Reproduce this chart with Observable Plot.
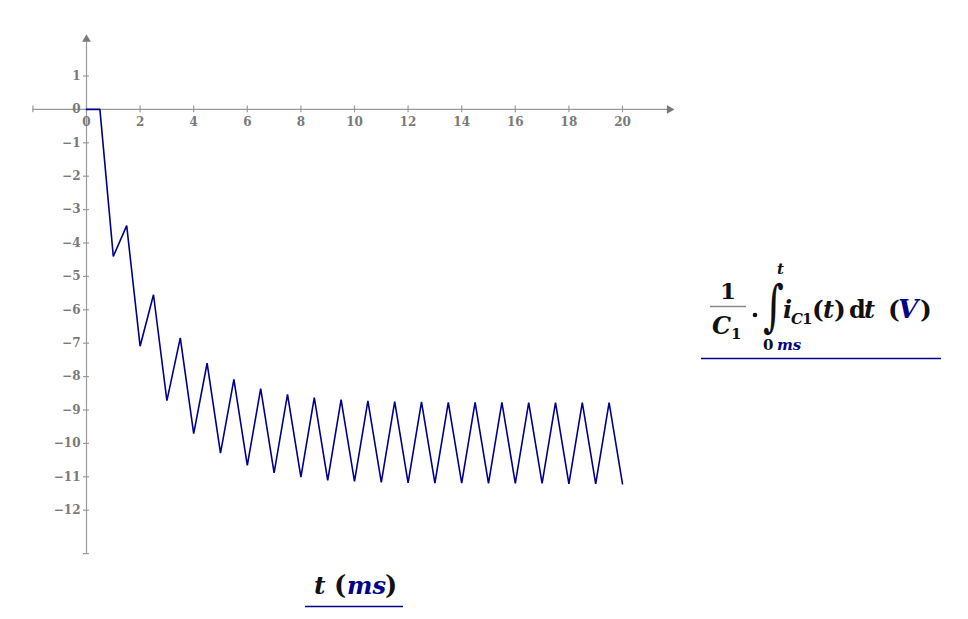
<!DOCTYPE html>
<html>
<head>
<meta charset="utf-8">
<script src="https://cdn.jsdelivr.net/npm/d3@7"></script>
<script src="https://cdn.jsdelivr.net/npm/@observablehq/plot@0.6"></script>
<style>
  html, body { margin: 0; padding: 0; background: #fff; }
  #wrap { position: relative; width: 968px; height: 619px; overflow: hidden; }
  #wrap > svg { position: absolute; left: 0; top: 0; }
  .math { font-family: "DejaVu Serif", serif; font-weight: bold; fill: #111; }
  .it { font-style: italic; }
  .unit { fill: #00008B; font-style: italic; }
</style>
</head>
<body>
<div id="wrap"></div>
<script>
// ---- data ----
const times = [0, 0.5, 1, 1.5, 2, 2.5, 3, 3.5, 4, 4.5, 5, 5.5, 6, 6.5, 7, 7.5, 8, 8.5, 9, 9.5, 10,
  10.5, 11, 11.5, 12, 12.5, 13, 13.5, 14, 14.5, 15, 15.5, 16, 16.5, 17, 17.5, 18, 18.5, 19, 19.5, 20];
const volts = [0, 0, -4.40, -3.48, -7.09, -5.55, -8.72, -6.84, -9.71, -7.60, -10.29, -8.08, -10.66, -8.36,
  -10.88, -8.53, -11.01, -8.63, -11.11, -8.69, -11.14, -8.73, -11.17, -8.75, -11.18, -8.76, -11.19,
  -8.77, -11.19, -8.77, -11.20, -8.77, -11.20, -8.78, -11.20, -8.78, -11.21, -8.78, -11.21, -8.78, -11.21];
const xTickMarks = [-2, 0, 2, 4, 6, 8, 10, 12, 14, 16, 18, 20];
const xTickValues = [0, 2, 4, 6, 8, 10, 12, 14, 16, 18, 20];
const xTickLabels = ["0", "2", "4", "6", "8", "10", "12", "14", "16", "18", "20"];
const yTickMarks = [1, 0, -1, -2, -3, -4, -5, -6, -7, -8, -9, -10, -11, -12, -13.3];
const yTickValues = [1, 0, -1, -2, -3, -4, -5, -6, -7, -8, -9, -10, -11, -12];
const yTickLabels = ["1", "0", "−1", "−2", "−3", "−4", "−5", "−6", "−7", "−8", "−9", "−10", "−11", "−12"];
const xAxisExtent = [-2, 21.75];
const yAxisExtent = [-13.3, 2.1];

const series = times.map((t, i) => ({t, v: volts[i]}));
const axisColor = "#9a9a9a";
const labelColor = "#7a7a7a";
const lineColor = "#00008B";
const tickFont = "DejaVu Serif";

const chart = Plot.plot({
  width: 968,
  height: 619,
  marginTop: 0, marginRight: 0, marginBottom: 0, marginLeft: 0,
  style: {background: "transparent", overflow: "visible"},
  x: {type: "linear", domain: [0, 20], range: [86, 622], axis: null},
  y: {type: "linear", domain: [-12, 0], range: [509.7, 108.9], axis: null},
  marks: [
    // axes
    Plot.ruleY([0], {x1: xAxisExtent[0], x2: xAxisExtent[1], stroke: axisColor, strokeWidth: 1.2}),
    Plot.ruleX([0], {y1: yAxisExtent[0], y2: yAxisExtent[1], stroke: axisColor, strokeWidth: 1.2}),
    Plot.dot([{x: xAxisExtent[1], y: 0}], {x: "x", y: "y", symbol: "triangle2", r: 4.2, rotate: 90, fill: "#7a7a7a", stroke: null}),
    Plot.dot([{x: 0, y: yAxisExtent[1]}], {x: "x", y: "y", symbol: "triangle2", r: 4.2, fill: "#7a7a7a", stroke: null}),
    // tick marks
    Plot.ruleX(xTickMarks, {x: d => d, y1: -0.1, y2: 0.1, stroke: axisColor, strokeWidth: 1.2}),
    Plot.ruleY(yTickMarks, {y: d => d, x1: -0.11, x2: 0.11, stroke: axisColor, strokeWidth: 1.2}),
    // tick labels
    Plot.text(xTickValues, {x: d => d, y: 0, text: (d, i) => xTickLabels[i], dy: 13, fill: labelColor,
      fontFamily: tickFont, fontSize: 12, fontWeight: "bold", textAnchor: "middle"}),
    Plot.text(yTickValues, {x: 0, y: d => d, text: (d, i) => yTickLabels[i], dx: -6, fill: labelColor,
      fontFamily: tickFont, fontSize: 12, fontWeight: "bold", textAnchor: "end"}),
    // the trace
    Plot.line(series, {x: "t", y: "v", stroke: lineColor, strokeWidth: 1.6, strokeLinejoin: "miter"})
  ]
});
document.getElementById("wrap").appendChild(chart);

// ---- axis titles (math labels) ----
const ns = "http://www.w3.org/2000/svg";
const overlay = document.createElementNS(ns, "svg");
overlay.setAttribute("width", 968);
overlay.setAttribute("height", 619);
overlay.innerHTML = `
  <g class="math">
    <text x="728" y="299" font-size="23" text-anchor="middle">1</text>
    <line x1="710" x2="746" y1="306.5" y2="306.5" stroke="#8a8a8a" stroke-width="1.5"/>
    <text x="712" y="334" font-size="24" class="it">C</text>
    <text x="731" y="339" font-size="15">1</text>
    <circle cx="755" cy="315" r="2.3" fill="#111"/>
    <text transform="translate(763,325) scale(1,1.4)" font-size="40" font-weight="normal">∫</text>
    <text x="777" y="274" font-size="15" class="it">t</text>
    <text x="763" y="350" font-size="15">0</text>
    <text x="777" y="350" font-size="15" class="unit">ms</text>

    <text x="783" y="318" font-size="24" class="it">i</text>
    <text x="791" y="324" font-size="15" class="it">C</text>
    <text x="802" y="324" font-size="15">1</text>
    <text x="812" y="318" font-size="25">(</text>
    <text x="823" y="318" font-size="24" class="it">t</text>
    <text x="834" y="318" font-size="25">)</text>
    <text x="849" y="318" font-size="24">d</text>
    <text x="864" y="318" font-size="24" class="it">t</text>
    <text x="888" y="318" font-size="25">(</text>
    <text x="898" y="318" font-size="26" class="unit">V</text>
    <text x="920" y="318" font-size="25">)</text>
    <line x1="701" x2="941" y1="358.5" y2="358.5" stroke="#00008B" stroke-width="1.5"/>

    <text x="314" y="594" font-size="25" class="it">t</text>
    <text x="334" y="594" font-size="26">(</text>
    <text x="347" y="594" font-size="24" class="unit">ms</text>
    <text x="385" y="594" font-size="26">)</text>
    <line x1="305" x2="403" y1="606.5" y2="606.5" stroke="#00008B" stroke-width="1.5"/>
  </g>`;
document.getElementById("wrap").appendChild(overlay);
</script>
</body>
</html>
